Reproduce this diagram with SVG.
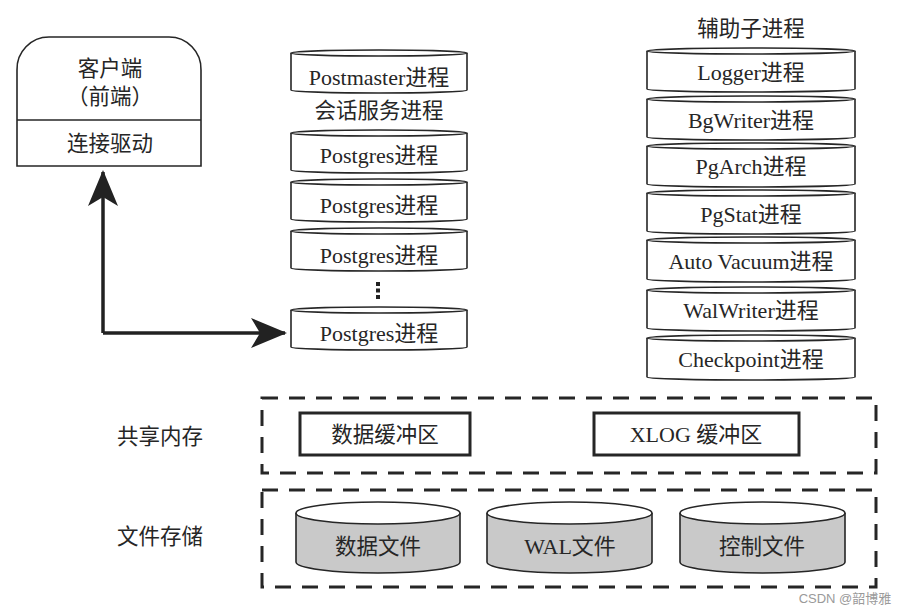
<svg xmlns="http://www.w3.org/2000/svg" width="907" height="613" viewBox="0 0 907 613">
<defs>
<style>
.t{font-family:"Liberation Serif","Noto Sans CJK SC",serif;font-size:22px;fill:#262626;text-anchor:middle}
.c{font-family:"Noto Sans CJK SC","Liberation Serif",sans-serif;font-size:21.5px;fill:#262626;text-anchor:middle}
.box{fill:#fff;stroke:#262626;stroke-width:1.6}
.buf{fill:#fff;stroke:#262626;stroke-width:3}
.dash{fill:none;stroke:#262626;stroke-width:3;stroke-dasharray:16 11}
.drum{fill:#c9c9c9;stroke:#262626;stroke-width:1.6}
.lid{fill:#fff;stroke:#262626;stroke-width:1.6}
.conn{fill:none;stroke:#222;stroke-width:3.5}
</style>
<marker id="ah" viewBox="0 0 36 30" refX="34" refY="15" markerWidth="36" markerHeight="30" markerUnits="userSpaceOnUse" orient="auto">
<path d="M0,0 L36,15 L0,30 L9,15 Z" fill="#222"/>
</marker>
</defs>
<rect width="907" height="613" fill="#fff"/>

<g id="client">
<path class="box" d="M17,166 V70 A32,32 0 0 1 49,37 H169 A32,32 0 0 1 201,70 V166 Z"/>
<line x1="17" y1="120" x2="201" y2="120" stroke="#262626" stroke-width="1.6"/>
<text class="c" x="110" y="76">客户端</text>
<text class="c" x="110" y="104">（前端）</text>
<text class="c" x="110" y="151">连接驱动</text>
</g>

<g id="connectors">
<path class="conn" d="M103,333 V172" marker-end="url(#ah)"/>
<path class="conn" d="M103,333 H285" marker-end="url(#ah)"/>
</g>

<g id="postmaster">
<path class="box" d="M291,53 V90 A88,3 0 0 0 467,90 V53"/>
<ellipse class="box" cx="379" cy="53" rx="88" ry="3"/>
<text class="t" x="379" y="85">Postmaster进程</text>
</g>

<text id="session-label" class="c" x="379" y="118">会话服务进程</text>

<g id="postgres1">
<path class="box" d="M291,133 V170 A88,3 0 0 0 467,170 V133"/>
<ellipse class="box" cx="379" cy="133" rx="88" ry="3"/>
<text class="t" x="379" y="163">Postgres进程</text>
</g>
<g id="postgres2">
<path class="box" d="M291,182 V219 A88,3 0 0 0 467,219 V182"/>
<ellipse class="box" cx="379" cy="182" rx="88" ry="3"/>
<text class="t" x="379" y="213">Postgres进程</text>
</g>
<g id="postgres3">
<path class="box" d="M291,231 V268 A88,3 0 0 0 467,268 V231"/>
<ellipse class="box" cx="379" cy="231" rx="88" ry="3"/>
<text class="t" x="379" y="263">Postgres进程</text>
</g>
<line id="ellipsis" x1="378" y1="282" x2="378" y2="299" stroke="#222" stroke-width="4" stroke-dasharray="4 2.5"/>
<g id="postgres4">
<path class="box" d="M291,310 V347 A88,3 0 0 0 467,347 V310"/>
<ellipse class="box" cx="379" cy="310" rx="88" ry="3"/>
<text class="t" x="379" y="341">Postgres进程</text>
</g>

<text id="aux-label" class="c" x="751" y="36">辅助子进程</text>

<g id="logger">
<path class="box" d="M647,51 V89 A104,3 0 0 0 855,89 V51"/>
<ellipse class="box" cx="751" cy="51" rx="104" ry="3"/>
<text class="t" x="751" y="80">Logger进程</text>
</g>
<g id="bgwriter">
<path class="box" d="M647,99 V137 A104,3 0 0 0 855,137 V99"/>
<ellipse class="box" cx="751" cy="99" rx="104" ry="3"/>
<text class="t" x="751" y="128">BgWriter进程</text>
</g>
<g id="pgarch">
<path class="box" d="M647,146 V184 A104,3 0 0 0 855,184 V146"/>
<ellipse class="box" cx="751" cy="146" rx="104" ry="3"/>
<text class="t" x="751" y="174">PgArch进程</text>
</g>
<g id="pgstat">
<path class="box" d="M647,193 V231 A104,3 0 0 0 855,231 V193"/>
<ellipse class="box" cx="751" cy="193" rx="104" ry="3"/>
<text class="t" x="751" y="222">PgStat进程</text>
</g>
<g id="autovacuum">
<path class="box" d="M647,240 V279 A104,3 0 0 0 855,279 V240"/>
<ellipse class="box" cx="751" cy="240" rx="104" ry="3"/>
<text class="t" x="751" y="269">Auto Vacuum进程</text>
</g>
<g id="walwriter">
<path class="box" d="M647,290 V328 A104,3 0 0 0 855,328 V290"/>
<ellipse class="box" cx="751" cy="290" rx="104" ry="3"/>
<text class="t" x="751" y="318">WalWriter进程</text>
</g>
<g id="checkpoint">
<path class="box" d="M647,338 V377 A104,3 0 0 0 855,377 V338"/>
<ellipse class="box" cx="751" cy="338" rx="104" ry="3"/>
<text class="t" x="751" y="367">Checkpoint进程</text>
</g>

<g id="shared-memory">
<rect class="dash" x="262" y="398" width="614" height="75"/>
<text class="c" x="160" y="444">共享内存</text>
</g>
<g id="data-buffer">
<rect class="buf" x="300" y="413" width="170" height="42"/>
<text class="c" x="385" y="442">数据缓冲区</text>
</g>
<g id="xlog-buffer">
<rect class="buf" x="594" y="413" width="205" height="42"/>
<text class="t" x="696" y="442">XLOG 缓冲区</text>
</g>

<g id="file-storage">
<rect class="dash" x="262" y="490" width="614" height="97"/>
<text class="c" x="160" y="544">文件存储</text>
</g>
<g id="data-files">
<path class="drum" d="M296,513 V562 A82,11 0 0 0 460,562 V513"/>
<ellipse class="lid" cx="378" cy="513" rx="82" ry="11"/>
<text class="c" x="378" y="554">数据文件</text>
</g>
<g id="wal-files">
<path class="drum" d="M487,513 V562 A82.5,11 0 0 0 652,562 V513"/>
<ellipse class="lid" cx="569.5" cy="513" rx="82.5" ry="11"/>
<text class="t" x="570" y="554">WAL文件</text>
</g>
<g id="control-files">
<path class="drum" d="M680,513 V562 A82.5,11 0 0 0 845,562 V513"/>
<ellipse class="lid" cx="762.5" cy="513" rx="82.5" ry="11"/>
<text class="c" x="762" y="554">控制文件</text>
</g>

<text x="845" y="603" font-family="Liberation Sans,'Noto Sans CJK SC',sans-serif" font-size="13" fill="#9a9a9a" text-anchor="middle">CSDN @韶博雅</text>
</svg>
